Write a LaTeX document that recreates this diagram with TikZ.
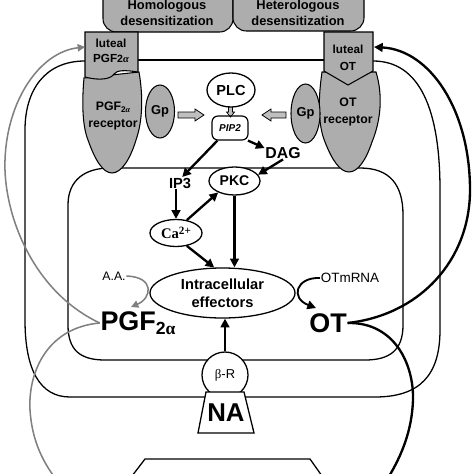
\documentclass[tikz,border=0pt]{standalone}
\usepackage{fontspec}
\setmainfont{Liberation Sans}
\newfontfamily\serf{Liberation Serif}
\usetikzlibrary{arrows.meta,shapes.geometric}
\newcommand{\fsz}[1]{\fontsize{#1}{#1}\selectfont}
\tikzset{
  mem/.style={line width=1.1pt},
  stip/.style={fill=black!32, draw=black, line width=0.9pt},
  blk/.style={fill=black!25, draw=black, line width=0.6pt},
  arr/.style={line width=2pt, -{Triangle[length=2.6mm,width=2.6mm]}},
  marr/.style={line width=1.6pt, -{Triangle[length=2.6mm,width=2.6mm]}},
  garr/.style={line width=1.3pt, draw=black!50, -{Triangle[length=2.2mm,width=2.2mm,fill=black!50]}},
  gline/.style={line width=1.3pt, draw=black!50},
  lbl/.style={inner sep=0.5pt, font=\bfseries},
  eoval/.style={ellipse, draw, line width=1.1pt, fill=white, inner sep=0pt},
}
\begin{document}
\begin{tikzpicture}[x=0.03cm,y=-0.03cm]
\useasboundingbox (0,0) rectangle (474,474);
\fill[white] (0,0) rectangle (474,474);
\begin{scope}
\clip (0,0) rectangle (474,474);

% outer membrane
\draw[mem] (85,61) .. controls (45,61) and (25,90) .. (25,130) -- (25,320) .. controls (25,370) and (40,397) .. (70,397) -- (215,397);
\draw[mem] (235,397) -- (375,397) .. controls (420,397) and (440,375) .. (440,330) -- (440,190) .. controls (440,110) and (420,61) .. (373,61);
\draw[mem] (138,60) -- (324,60);
% inner membrane
\draw[mem] (68,205) .. controls (68,180) and (85,168) .. (110,168) -- (360,168) .. controls (390,168) and (403,185) .. (403,215) -- (403,325) .. controls (403,350) and (390,360) .. (365,360) -- (105,360) .. controls (80,360) and (68,350) .. (68,325) -- cycle;

% desensitization boxes
\draw[stip, rounded corners=4mm] (103,-20) rectangle (233,32);
\draw[stip, rounded corners=4mm] (233,-20) rectangle (364,31);
\node[lbl, align=center, font=\bfseries\fontsize{11}{13.7}\selectfont] (homo) at (167,13) {Homologous\\desensitization};
\node[lbl, align=center, font=\bfseries\fontsize{11}{13.7}\selectfont] (hete) at (298,12.5) {Heterologous\\desensitization};

% left receptor and luteal PGF2a
\draw[stip] (84,78) .. controls (82,100) and (82,125) .. (88,140) .. controls (95,160) and (103,173) .. (112,173) .. controls (121,173) and (130,160) .. (136,140) .. controls (143,120) and (143,95) .. (139,72) -- cycle;
\draw[stip] (85,32) -- (138,32) -- (138,72) .. controls (125,70) and (117,70) .. (114,74) .. controls (111,79) and (100,81) .. (85,77) -- cycle;
\coordinate (lpgfin) at (85,47);
\node[lbl, align=center, font=\bfseries\fontsize{10}{13}\selectfont] (lpgf) at (111,51) {luteal\\PGF{\fontsize{9}{9}\selectfont 2\serf\itshape α}};
\node[lbl, align=center, font=\bfseries\fontsize{10.5}{14.5}\selectfont] (lrec) at (113,116) {PGF\raisebox{-0.3ex}{\fontsize{7}{7}\selectfont 2\serf\itshape α}\\receptor};

% right receptor and luteal OT
\draw[stip] (322,72) .. controls (318,100) and (318,125) .. (325,142) .. controls (332,160) and (340,172) .. (349,172) .. controls (358,172) and (366,160) .. (372,142) .. controls (381,120) and (383,95) .. (376,72) -- cycle;
\draw[stip] (324,32) -- (373,32) -- (373,71) -- (348,85) -- (324,71) -- cycle;
\coordinate (lotin) at (374,47);
\node[lbl, align=center, font=\bfseries\fontsize{10}{15}\selectfont] (lot) at (348,58) {luteal\\OT};
\node[lbl, align=center, font=\bfseries\fontsize{10.5}{14.5}\selectfont] (rrec) at (348,112) {OT\\receptor};

% G proteins
\node[stip, ellipse, inner sep=0pt, minimum width=8.7mm, minimum height=15.9mm, font=\bfseries\fsz{11}] (gpl) at (160,111.5) {Gp};
\node[stip, ellipse, inner sep=0pt, minimum width=8.7mm, minimum height=17.7mm, font=\bfseries\fsz{11}] (gpr) at (305.5,113.5) {Gp};

% block arrows
\draw[blk] (178,112) -- (195,112) -- (195,109) -- (204,115) -- (195,121) -- (195,118) -- (178,118) -- cycle;
\draw[blk] (286,112) -- (271,112) -- (271,109) -- (262,115) -- (271,121) -- (271,118) -- (286,118) -- cycle;
\draw[blk] (228.5,106) -- (228.5,112) -- (226.5,112) -- (230.5,117) -- (234.5,112) -- (232.5,112) -- (232.5,106) -- cycle;

% signalling nodes
\node[eoval, minimum width=14.4mm, minimum height=10.2mm, font=\bfseries\fsz{12.4}] (plc) at (231,90) {PLC};
\node[draw, line width=1pt, rounded corners=1.8mm, minimum width=10.8mm, minimum height=7.2mm, inner sep=0pt, font=\bfseries\itshape\fsz{8.5}] (pip) at (230,128) {PIP2};
\node[lbl, font=\bfseries\fsz{13.5}] (dag) at (283,153) {DAG};
\node[lbl, font=\bfseries\fsz{12.5}] (ip3) at (180,183) {IP3};
\node[eoval, minimum width=15.3mm, minimum height=8.4mm, font=\bfseries\fsz{12}] (pkc) at (234.5,181) {PKC};
\node[eoval, minimum width=15.6mm, minimum height=8.1mm] (ca) at (176,233) {\serf\bfseries\fsz{12.5}Ca\raisebox{0.55ex}{\fsz{9.5}2+}};
\node[eoval, minimum width=43.5mm, minimum height=15mm, align=center, font=\bfseries\fontsize{12.5}{15.4}\selectfont] (eff) at (222.5,293) {Intracellular\\effectors};

\node[inner sep=0.5pt, font=\fsz{10.5}] (aa) at (114,276) {A.A.};
\node[inner sep=0.5pt, font=\fsz{11.5}] (otm) at (350,278) {OTmRNA};
\node[inner sep=0.5pt] (pgf) at (138,323) {\bfseries\fsz{23}PGF\raisebox{-0.3ex}{\fsz{15}2\serf\bfseries α}};
\node[inner sep=0.5pt, font=\bfseries\fsz{23}] (ot) at (328,323) {OT};

% beta receptor and NA
\node[circle, draw, line width=1.1pt, fill=white, minimum size=13.8mm, inner sep=0pt, font=\fsz{11}] (br) at (225,375) {{\serf β}-R};
\draw[mem, fill=white] (206,392) -- (244,392) -- (254,433) -- (198,433) -- cycle;
\node[inner sep=0.5pt, font=\bfseries\fsz{22}] (na) at (226,413) {NA};

% bottom cell
\draw[mem] (132,476) -- (145,459) -- (310,459) -- (322,476);

% arrows
\draw[arr] (pip.225) -- (ip3.70);
\draw[arr] (pip.-35) -- (dag.165);
\draw[arr] (dag.south) -- (pkc.15);
\draw[arr] (ca.north |- ip3.south) -- (ca.north);
\draw[arr] (ca.50) -- (pkc.215);
\draw[arr] (ca.-50) -- (eff.108);
\draw[arr] (pkc.south) -- (pkc.south |- eff.north);
\draw[arr] (br.north) -- (br.north |- eff.south);

% A.A. -> PGF2a
\coordinate (aaend) at (131,307);
\draw[garr] (aa.east) .. controls (155,277) and (152,298) .. (aaend);
% OTmRNA -> OT
\coordinate (otmend) at (316,308);
\draw[marr] (otm.west) .. controls (296,277) and (290,298) .. (otmend);

% PGF2a loops
\draw[garr] (pgf.west) .. controls (30,290) and (3,210) .. (5,160) .. controls (7,100) and (40,52) .. (lpgfin);
\coordinate (pgfdown) at (55,478);
\draw[gline] (pgf.west) .. controls (45,328) and (28,375) .. (30,410) .. controls (32,440) and (42,460) .. (pgfdown);

% OT loops
\draw[arr] (ot.east) .. controls (420,315) and (470,260) .. (470,190) .. controls (470,110) and (430,50) .. (lotin);
\coordinate (otdown) at (388,478);
\draw[line width=2pt] (ot.east) .. controls (395,322) and (414,365) .. (413,400) .. controls (412,430) and (402,455) .. (otdown);
\end{scope}
\end{tikzpicture}
\end{document}
